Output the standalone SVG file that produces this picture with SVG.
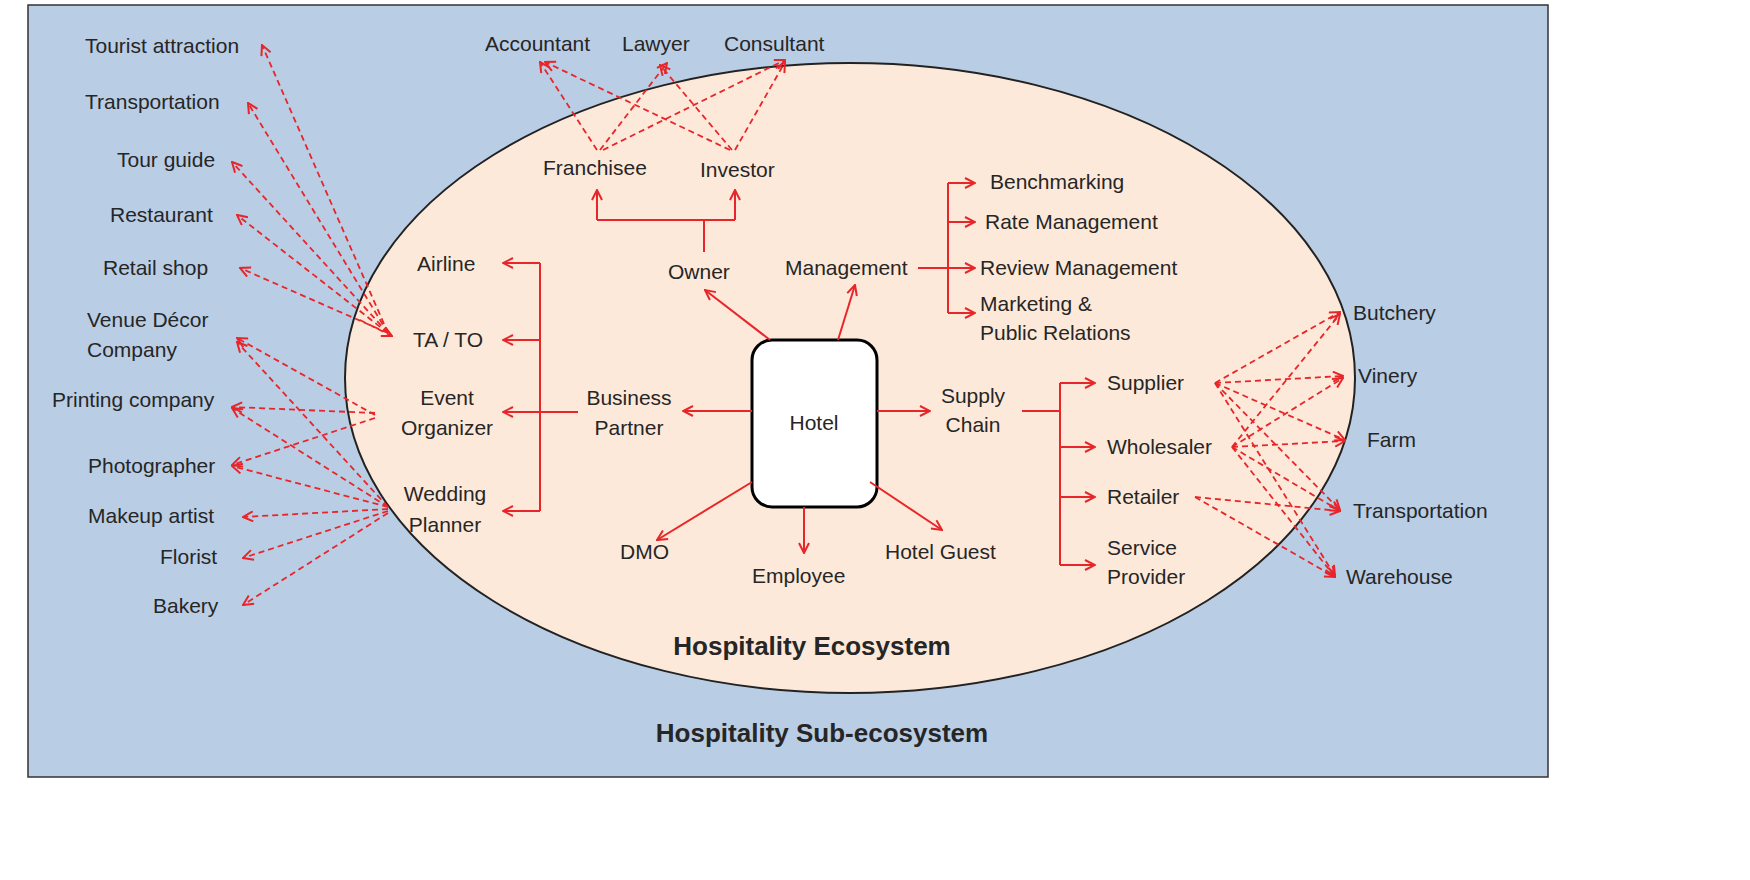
<svg xmlns="http://www.w3.org/2000/svg" width="1750" height="880" viewBox="0 0 1750 880">
<style>
text{font-family:"Liberation Sans",Arial,sans-serif;font-size:21px;fill:#262626}
.t{font-weight:bold;font-size:26px}
.s{stroke:#e8262a;stroke-width:2;fill:none}
.d{stroke:#e8262a;stroke-width:1.8;fill:none;stroke-dasharray:6,4}
</style>
<defs>
<marker id="a" viewBox="0 0 12 12" refX="11" refY="6" markerWidth="12" markerHeight="12" markerUnits="userSpaceOnUse" orient="auto">
<path d="M1,1 L11,6 L1,11" fill="none" stroke="#e8262a" stroke-width="2"/>
</marker>
</defs>
<rect x="28" y="5" width="1520" height="772" fill="#b9cde5" stroke="#333" stroke-width="1.5"/>
<ellipse cx="850" cy="378" rx="505" ry="315" fill="#fde9d9" stroke="#222" stroke-width="2"/>
<g id="hotel"><rect x="752" y="340" width="125" height="167" rx="20" fill="#fff" stroke="#000" stroke-width="3"/><text x="814" y="430" text-anchor="middle">Hotel</text></g>
<g id="connectors">
<path class="s" marker-end="url(#a)" d="M770,340 L705,290"/>
<path class="s" marker-end="url(#a)" d="M838,340 L855,285"/>
<path class="s" marker-end="url(#a)" d="M752,411 L683,411"/>
<path class="s" marker-end="url(#a)" d="M877,411 L930,411"/>
<path class="s" marker-end="url(#a)" d="M752,482 L657,540"/>
<path class="s" marker-end="url(#a)" d="M804,507 L804,553"/>
<path class="s" marker-end="url(#a)" d="M870,482 L942,530"/>
<path class="s" d="M704,252 L704,220 M597,220 L735,220"/>
<path class="s" marker-end="url(#a)" d="M597,220 L597,190"/>
<path class="s" marker-end="url(#a)" d="M735,220 L735,190"/>
<path class="s" d="M918,268 L948,268 M948,183 L948,313"/>
<path class="s" marker-end="url(#a)" d="M948,183 L975,183"/>
<path class="s" marker-end="url(#a)" d="M948,222 L975,222"/>
<path class="s" marker-end="url(#a)" d="M948,268 L975,268"/>
<path class="s" marker-end="url(#a)" d="M948,313 L975,313"/>
<path class="s" d="M578,412 L540,412 M540,263 L540,511"/>
<path class="s" marker-end="url(#a)" d="M540,263 L503,263"/>
<path class="s" marker-end="url(#a)" d="M540,340 L503,340"/>
<path class="s" marker-end="url(#a)" d="M540,412 L503,412"/>
<path class="s" marker-end="url(#a)" d="M540,511 L503,511"/>
<path class="s" d="M1022,411 L1060,411 M1060,383 L1060,565"/>
<path class="s" marker-end="url(#a)" d="M1060,383 L1095,383"/>
<path class="s" marker-end="url(#a)" d="M1060,447 L1095,447"/>
<path class="s" marker-end="url(#a)" d="M1060,497 L1095,497"/>
<path class="s" marker-end="url(#a)" d="M1060,565 L1095,565"/>
<path class="d" marker-end="url(#a)" d="M597,150 L540,62"/>
<path class="d" marker-end="url(#a)" d="M600,150 L667,63"/>
<path class="d" marker-end="url(#a)" d="M603,150 L785,60"/>
<path class="d" marker-end="url(#a)" d="M730,150 L545,62"/>
<path class="d" marker-end="url(#a)" d="M732,150 L660,65"/>
<path class="d" marker-end="url(#a)" d="M735,150 L785,62"/>
<path class="d" marker-end="url(#a)" d="M388,333 L262,45"/>
<path class="d" marker-end="url(#a)" d="M388,333 L248,103"/>
<path class="d" marker-end="url(#a)" d="M388,333 L232,162"/>
<path class="d" marker-end="url(#a)" d="M388,333 L237,215"/>
<path class="d" marker-end="url(#a)" d="M388,333 L240,268"/>
<path class="d" marker-end="url(#a)" d="M360,320 L392,336"/>
<path class="d" marker-end="url(#a)" d="M375,415 L237,338"/>
<path class="d" marker-end="url(#a)" d="M375,413 L232,407"/>
<path class="d" marker-end="url(#a)" d="M375,418 L232,465"/>
<path class="d" marker-end="url(#a)" d="M388,507 L237,342"/>
<path class="d" marker-end="url(#a)" d="M388,507 L232,408"/>
<path class="d" marker-end="url(#a)" d="M388,507 L232,466"/>
<path class="d" marker-end="url(#a)" d="M388,509 L243,517"/>
<path class="d" marker-end="url(#a)" d="M388,511 L243,558"/>
<path class="d" marker-end="url(#a)" d="M388,513 L243,605"/>
<path class="d" marker-end="url(#a)" d="M1215,383 L1340,312"/>
<path class="d" marker-end="url(#a)" d="M1215,383 L1343,376"/>
<path class="d" marker-end="url(#a)" d="M1215,383 L1345,440"/>
<path class="d" marker-end="url(#a)" d="M1215,383 L1340,510"/>
<path class="d" marker-end="url(#a)" d="M1215,383 L1335,576"/>
<path class="d" marker-end="url(#a)" d="M1232,447 L1340,314"/>
<path class="d" marker-end="url(#a)" d="M1232,447 L1343,378"/>
<path class="d" marker-end="url(#a)" d="M1232,447 L1345,441"/>
<path class="d" marker-end="url(#a)" d="M1232,447 L1340,511"/>
<path class="d" marker-end="url(#a)" d="M1232,447 L1335,577"/>
<path class="d" marker-end="url(#a)" d="M1195,497 L1340,511"/>
<path class="d" marker-end="url(#a)" d="M1195,497 L1335,577"/>
</g>
<g id="n-tourist"><text x="85" y="53">Tourist attraction</text></g>
<g id="n-transport-l"><text x="85" y="109">Transportation</text></g>
<g id="n-tourguide"><text x="117" y="167">Tour guide</text></g>
<g id="n-restaurant"><text x="110" y="222">Restaurant</text></g>
<g id="n-retailshop"><text x="103" y="275">Retail shop</text></g>
<g id="n-venue"><text x="87" y="327">Venue  Décor</text><text x="87" y="357">Company</text></g>
<g id="n-printing"><text x="52" y="407">Printing company</text></g>
<g id="n-photo"><text x="88" y="473">Photographer</text></g>
<g id="n-makeup"><text x="88" y="523">Makeup artist</text></g>
<g id="n-florist"><text x="160" y="564">Florist</text></g>
<g id="n-bakery"><text x="153" y="613">Bakery</text></g>
<g id="n-accountant"><text x="485" y="51">Accountant</text></g>
<g id="n-lawyer"><text x="622" y="51">Lawyer</text></g>
<g id="n-consultant"><text x="724" y="51">Consultant</text></g>
<g id="n-franchisee"><text x="543" y="175">Franchisee</text></g>
<g id="n-investor"><text x="700" y="177">Investor</text></g>
<g id="n-owner"><text x="668" y="279">Owner</text></g>
<g id="n-management"><text x="785" y="275">Management</text></g>
<g id="n-bench"><text x="990" y="189">Benchmarking</text></g>
<g id="n-rate"><text x="985" y="229">Rate Management</text></g>
<g id="n-review"><text x="980" y="275">Review Management</text></g>
<g id="n-marketing"><text x="980" y="311">Marketing &amp;</text><text x="980" y="340">Public Relations</text></g>
<g id="n-airline"><text x="417" y="271">Airline</text></g>
<g id="n-tato"><text x="413" y="347">TA  /  TO</text></g>
<g id="n-event"><text x="447" y="405" text-anchor="middle">Event</text><text x="447" y="435" text-anchor="middle">Organizer</text></g>
<g id="n-wedding"><text x="445" y="501" text-anchor="middle">Wedding</text><text x="445" y="532" text-anchor="middle">Planner</text></g>
<g id="n-bp"><text x="629" y="405" text-anchor="middle">Business</text><text x="629" y="435" text-anchor="middle">Partner</text></g>
<g id="n-supplychain"><text x="973" y="403" text-anchor="middle">Supply</text><text x="973" y="432" text-anchor="middle">Chain</text></g>
<g id="n-dmo"><text x="620" y="559">DMO</text></g>
<g id="n-employee"><text x="752" y="583">Employee</text></g>
<g id="n-guest"><text x="885" y="559">Hotel Guest</text></g>
<g id="n-supplier"><text x="1107" y="390">Supplier</text></g>
<g id="n-wholesaler"><text x="1107" y="454">Wholesaler</text></g>
<g id="n-retailer"><text x="1107" y="504">Retailer</text></g>
<g id="n-service"><text x="1107" y="555">Service</text><text x="1107" y="584">Provider</text></g>
<g id="n-butchery"><text x="1353" y="320">Butchery</text></g>
<g id="n-vinery"><text x="1358" y="383">Vinery</text></g>
<g id="n-farm"><text x="1367" y="447">Farm</text></g>
<g id="n-transport-r"><text x="1353" y="518">Transportation</text></g>
<g id="n-warehouse"><text x="1346" y="584">Warehouse</text></g>
<text class="t" x="812" y="655" text-anchor="middle">Hospitality Ecosystem</text>
<text class="t" x="822" y="742" text-anchor="middle">Hospitality Sub-ecosystem</text>
</svg>
